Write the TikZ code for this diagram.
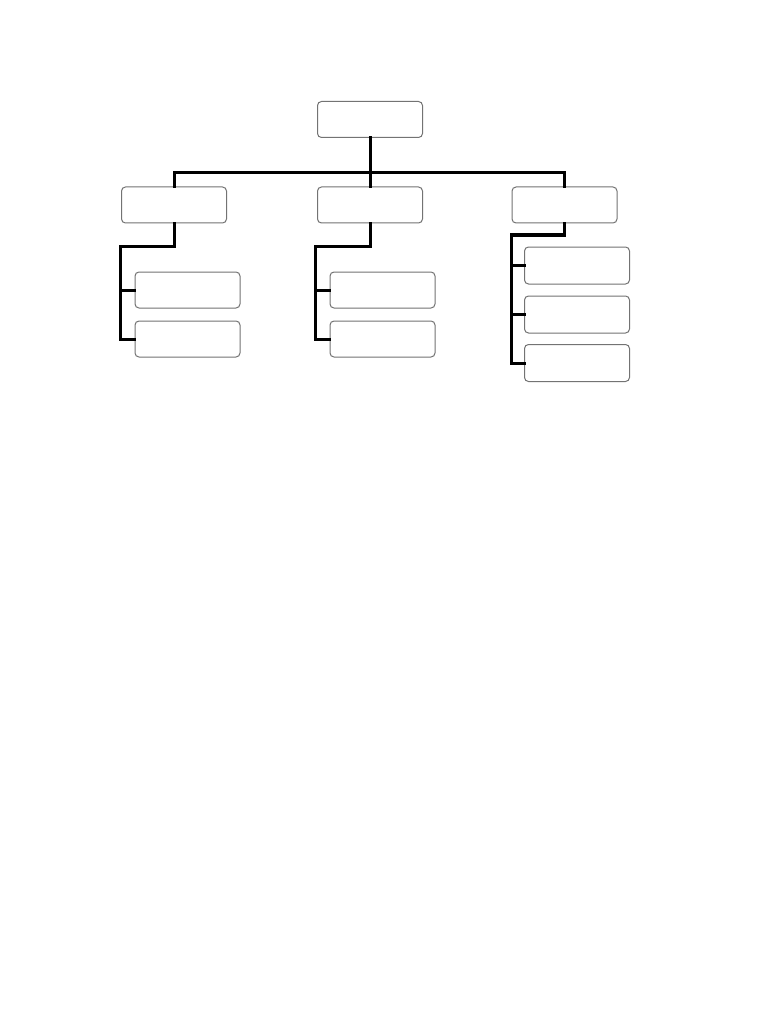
\documentclass[tikz,border=0pt]{standalone}
\usepackage{tikz}
\usetikzlibrary{calc}
\definecolor{boxgray}{rgb}{0.45,0.45,0.45}
\tikzset{
  orgbox/.style={draw=boxgray,line width=1pt,rounded corners=4pt,fill=white,minimum width=105pt,minimum height=36pt,inner sep=0pt},
  conn/.style={line width=3pt,color=black}
}
\begin{document}
\begin{tikzpicture}[line cap=rect,line join=miter,x=1pt,y=-1pt]
            \useasboundingbox (0,0) rectangle (768,1024);
            \fill[white] (0,0) rectangle (768,1024);
            % top level
            \node [orgbox] (boss) at (370,119.5) {};
            \coordinate (bus) at (370,173);
            % second level
            \node [orgbox] (dept1) at (174,205) {};
            \node [orgbox] (dept2) at (370,205) {};
            \node [orgbox] (dept3) at (564.5,205) {};
            % third level
            \node [orgbox] (kid11) at (187.5,290) {};
            \node [orgbox] (kid12) at (187.5,339) {};
            \node [orgbox] (kid21) at (382.5,290) {};
            \node [orgbox] (kid22) at (382.5,339) {};
            \node [orgbox,minimum height=37pt] (kid31) at (577,265.5) {};
            \node [orgbox,minimum height=37pt] (kid32) at (577,314.5) {};
            \node [orgbox,minimum height=37pt] (kid33) at (577,363) {};
            \coordinate (spine1) at (120,246);
            \coordinate (spine2) at (315,246);
            \coordinate (spine3) at (511,235);
            % connectors
            \draw [conn] (boss.south) -- (dept2.north);
            \draw [conn] (dept1.north) |- (bus) -| (dept3.north);
            \draw [conn] (dept1.south) |- (spine1) |- (kid12.west);
            \draw [conn] (spine1 |- kid11.west) -- (kid11.west);
            \draw [conn] (dept2.south) |- (spine2) |- (kid22.west);
            \draw [conn] (spine2 |- kid21.west) -- (kid21.west);
            \draw [conn] (dept3.south) |- (spine3) |- (kid33.west);
            \draw [conn] (spine3 |- kid31.west) -- (kid31.west);
            \draw [conn] (spine3 |- kid32.west) -- (kid32.west);
            \end{tikzpicture}
\end{document}
